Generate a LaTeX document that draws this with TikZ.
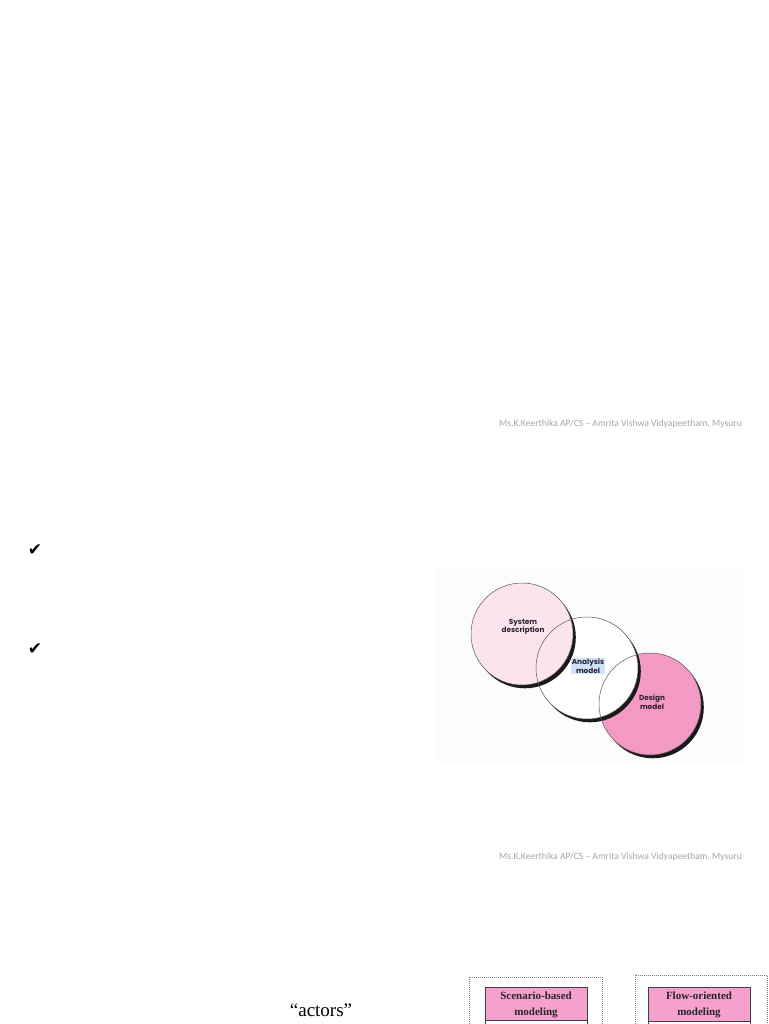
\documentclass[tikz,border=0pt]{standalone}
\usepackage{fontspec}
\setmainfont{Liberation Serif}
\newfontfamily\footfont{Carlito}
\newfontfamily\circfont{Poppins}
\newfontfamily\symfont{DejaVu Sans}
\definecolor{sysfill}{HTML}{FCE4EE}
\definecolor{desfill}{HTML}{F498C4}
\definecolor{boxpink}{HTML}{F5A0CE}
\definecolor{shadowc}{HTML}{1A1A1A}
\definecolor{outlinec}{HTML}{555555}
\definecolor{panel}{HTML}{FCFCFC}
\definecolor{footgray}{HTML}{A6A6A6}
\definecolor{labelc}{HTML}{2B2233}
\definecolor{hilite}{HTML}{CFE2F7}
\tikzset{
  footer/.style={anchor=east, text=footgray, font=\footfont\fontsize{9.6}{11}\selectfont, inner sep=0pt},
  circlabel/.style={align=center, text=labelc, font=\circfont\bfseries\fontsize{7.3}{8.6}\selectfont, inner sep=1pt},
  thinring/.style={draw=outlinec, line width=0.5pt},
  outerbox/.style={draw=gray, line width=0.6pt, dash pattern=on 1pt off 1pt},
  innerbox/.style={draw=black!75, line width=0.8pt, fill=boxpink},
  boxlabel/.style={align=center, text=black!85, font=\bfseries\fontsize{11}{16.5}\selectfont, inner sep=0pt},
  tick/.style={font=\symfont\fontsize{17}{17}\selectfont, inner sep=0pt}
}
\begin{document}
\begin{tikzpicture}[x=1pt,y=-1pt]
\useasboundingbox (0,0) rectangle (768,1024);
\clip (0,0) rectangle (768,1024);
\fill[white] (0,0) rectangle (768,1024);

% footers
\node[footer] (foot1) at (742,424) {Ms.K.Keerthika AP/CS – Amrita Vishwa Vidyapeetham, Mysuru};
\node[footer] (foot2) at (742,857) {Ms.K.Keerthika AP/CS – Amrita Vishwa Vidyapeetham, Mysuru};

% check marks
\node[tick] (tick1) at (35,550) {✔};
\node[tick] (tick2) at (35,649) {✔};

% diagram panel
\fill[panel] (437,568) rectangle (744,762);

% design circle
\fill[shadowc] (652.8,707.3) circle[radius=51pt];
\fill[desfill] (650,704) circle[radius=51pt];
% analysis circle
\fill[shadowc] (589.8,671.3) circle[radius=51pt];
\fill[white] (587,668) circle[radius=51pt];
% system circle
\fill[shadowc] (524.8,637.3) circle[radius=51pt];
\fill[sysfill] (522,634) circle[radius=51pt];
% thin outlines
\draw[thinring] (650,704) circle[radius=51pt];
\draw[thinring] (587,668) circle[radius=51pt];
\draw[thinring] (522,634) circle[radius=51pt];

\node[circlabel] (sys) at (523,627) {System\\description};
\node[circlabel, fill=hilite] (ana) at (588,666) {Analysis\\model};
\node[circlabel] (des) at (652,702) {Design\\model};

% bottom text
\node[anchor=base, inner sep=0pt, font=\fontsize{19}{22}\selectfont] (actors) at (321,1016) {“actors”};

% bottom boxes
\draw[outerbox] (469,977) rectangle (602,1034);
\draw[innerbox] (485,987) rectangle (587,1020);
\draw[draw=black!75, line width=0.8pt, fill=white] (485,1020) rectangle (587,1034);
\node[boxlabel] (scen) at (536,1005) {Scenario-based\\modeling};

\draw[outerbox] (635,975) rectangle (767,1034);
\draw[innerbox] (648,987) rectangle (750,1021);
\draw[draw=black!75, line width=0.8pt, fill=white] (648,1021) rectangle (750,1034);
\node[boxlabel] (flow) at (699,1005) {Flow-oriented\\modeling};
\end{tikzpicture}
\end{document}
